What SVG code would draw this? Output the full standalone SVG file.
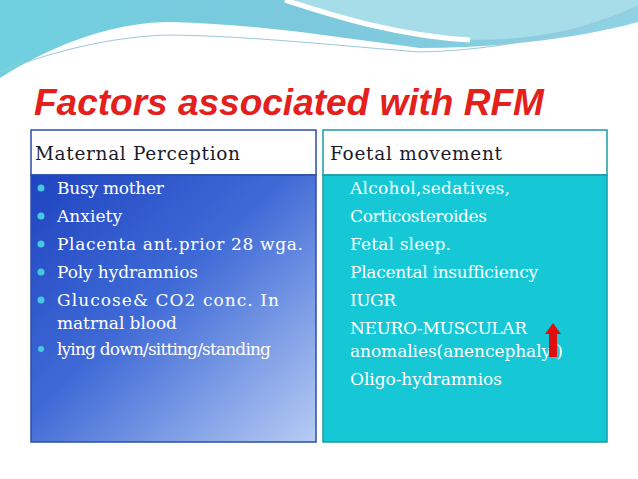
<svg xmlns="http://www.w3.org/2000/svg" width="638" height="479" viewBox="0 0 638 479">
<defs>
<linearGradient id="wave" x1="0" y1="0" x2="1" y2="0"><stop offset="0" stop-color="#6fd0e0"/><stop offset="0.5" stop-color="#7cc8dc"/><stop offset="1" stop-color="#8fd2e4"/></linearGradient>
<linearGradient id="lbody" x1="0" y1="0" x2="1" y2="1"><stop offset="0" stop-color="#1f44c0"/><stop offset="0.45" stop-color="#3f6ad6"/><stop offset="1" stop-color="#b8cdf4"/></linearGradient>
<style>
.t{font-family:"DejaVu Serif",serif;font-size:17px;fill:#fff}
.h{font-family:"DejaVu Serif",serif;font-size:18.5px;fill:#1a1a2a}
.b{fill:#46c8e0}
</style>
</defs>
<rect width="638" height="479" fill="#fff"/>
<path d="M0 0H638V22C580 38 500 48 420 48C340 38 260 24 170 22C120 22 60 40 0 78Z" fill="url(#wave)"/>
<path d="M285 0C340 18 400 36 470 40C540 40 590 28 638 5V0Z" fill="#a6dde9"/>
<path d="M285 0C340 18 400 36 470 40" fill="none" stroke="#fff" stroke-width="5"/>
<path d="M0 72C60 48 120 36 170 35C250 36 330 45 420 52C500 50 570 35 638 8" fill="none" stroke="#9cc8d8" stroke-width="1"/>
<text x="34" y="115" font-family="Liberation Sans,sans-serif" font-size="37" font-weight="bold" font-style="italic" fill="#e3201b">Factors associated with RFM</text>
<g id="left">
<rect x="31" y="130" width="285" height="45" fill="#fff" stroke="#2a4fa8" stroke-width="1.5"/>
<rect x="31" y="175" width="285" height="267" fill="url(#lbody)" stroke="#2a4fa8" stroke-width="1.5"/>
<text class="h" x="35" y="160" textLength="205">Maternal Perception</text>
<g class="b"><circle cx="41" cy="188" r="3.5"/><circle cx="41" cy="216" r="3.5"/><circle cx="41" cy="244" r="3.5"/><circle cx="41" cy="272" r="3.5"/><circle cx="41" cy="300" r="3.5"/><circle cx="41" cy="349" r="3"/></g>
<text class="t" x="57" y="194" textLength="107">Busy mother</text>
<text class="t" x="57" y="222" textLength="65">Anxiety</text>
<text class="t" x="57" y="250" textLength="246">Placenta  ant.prior 28 wga.</text>
<text class="t" x="57" y="278" textLength="141">Poly hydramnios</text>
<text class="t" x="57" y="306" textLength="222">Glucose&amp; CO2 conc. In</text>
<text class="t" x="57" y="329" textLength="120">matrnal blood</text>
<text class="t" x="57" y="355" font-size="14.5" textLength="214">lying down/sitting/standing</text>
</g>
<g id="right">
<rect x="323" y="130" width="284" height="45" fill="#fff" stroke="#1a9aa8" stroke-width="1.5"/>
<rect x="323" y="175" width="284" height="267" fill="#16c8d6" stroke="#1a9aa8" stroke-width="1.5"/>
<text class="h" x="330" y="160" textLength="172">Foetal movement</text>
<text class="t" x="350" y="194" textLength="160">Alcohol,sedatives,</text>
<text class="t" x="350" y="222" textLength="137">Corticosteroides</text>
<text class="t" x="350" y="250" textLength="101">Fetal sleep.</text>
<text class="t" x="350" y="278" textLength="188">Placental insufficiency</text>
<text class="t" x="350" y="306" textLength="46">IUGR</text>
<text class="t" x="350" y="334" textLength="177">NEURO-MUSCULAR</text>
<text class="t" x="350" y="357" textLength="213">anomalies(anencephaly  )</text>
<text class="t" x="350" y="385" textLength="152">Oligo-hydramnios</text>
<path d="M553 323L561 334H557V357H549V334H545Z" fill="#e01010"/>
</g>
</svg>
